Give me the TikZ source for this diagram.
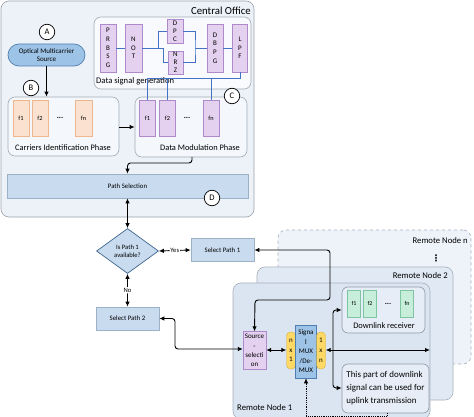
\documentclass[tikz,border=0pt]{standalone}
\usepackage{fontspec}
\setmainfont{Carlito}
\newfontfamily\dejavu{DejaVu Sans}
\usetikzlibrary{shapes.geometric,arrows.meta}
\newcommand\fsz[2]{\fontsize{#1}{#2}\selectfont}
\definecolor{cofill}{HTML}{EDF2F8}
\definecolor{coline}{HTML}{9AA4AE}
\definecolor{pnfill}{HTML}{F4F7FB}
\definecolor{pnline}{HTML}{A3ACB6}
\definecolor{ofill}{HTML}{FBE2D0}
\definecolor{oline}{HTML}{EFB78F}
\definecolor{pfill}{HTML}{E4D0EF}
\definecolor{pline}{HTML}{AE8ACB}
\definecolor{gfill}{HTML}{C6EEDB}
\definecolor{gline}{HTML}{7FC5A2}
\definecolor{bfill}{HTML}{C8DBEF}
\definecolor{bline}{HTML}{9DB1C6}
\definecolor{mfill}{HTML}{9DC3E6}
\definecolor{mline}{HTML}{4F7FB0}
\definecolor{yfill}{HTML}{FFD966}
\definecolor{yline}{HTML}{D4AE3C}
\definecolor{wirec}{HTML}{4472C4}
\definecolor{rnnfill}{HTML}{EEF3F9}
\definecolor{rn2fill}{HTML}{E1EAF4}
\definecolor{rn1fill}{HTML}{DAE5F1}
\definecolor{rnline}{HTML}{A7B1BC}
\definecolor{dlfill}{HTML}{E6EDF6}
\definecolor{dlline}{HTML}{8E9AA7}
\tikzset{
  copanel/.style={draw=coline, fill=cofill, rounded corners=8pt, line width=0.6pt, inner sep=0},
  panel/.style={draw=pnline, fill=pnfill, rounded corners=7pt, line width=0.6pt, inner sep=0},
  obox/.style={draw=oline, fill=ofill, minimum width=16, minimum height=36, inner sep=0, font=\fsz{6.3}{7}},
  pbox/.style={draw=pline, fill=pfill, inner sep=0, align=center, font=\fsz{7}{8.7}},
  gbox/.style={draw=gline, fill=gfill, minimum width=13, minimum height=27, inner sep=0, font=\fsz{6}{7}},
  bbox/.style={draw=bline, fill=bfill, inner sep=0, line width=0.6pt, font=\fsz{6.8}{8}},
  ybox/.style={draw=yline, fill=yfill, rounded corners=4pt, minimum width=9, minimum height=37, inner sep=0, align=center, font=\fsz{7}{9.8}},
  rnpanel/.style={draw=rnline, rounded corners=8pt, line width=0.6pt, inner sep=0},
  dlpanel/.style={draw=dlline, fill=dlfill, rounded corners=6pt, line width=0.6pt, inner sep=0},
  circ/.style={circle, draw, fill=white, line width=0.7pt, minimum size=15.5, inner sep=0, font=\fsz{8.5}{9}},
  wire/.style={draw=wirec, line width=0.8pt},
  arr/.style={-{Latex[length=5pt,width=4.5pt]}, line width=0.9pt, rounded corners=3pt},
  darr/.style={{Latex[length=5pt,width=4.5pt]}-{Latex[length=5pt,width=4.5pt]}, line width=0.9pt, rounded corners=3pt},
  dots/.style={inner sep=0, font=\fsz{8}{9}\bfseries},
  lbl/.style={inner sep=0, font=\fsz{8.4}{10}},
  rnlbl/.style={inner sep=0, font=\fsz{8.7}{10}},
}
\begin{document}
\begin{tikzpicture}[x=1pt,y=-1pt]
\useasboundingbox (0,0) rectangle (474,417);
\fill[white] (0,0) rectangle (474,417);

% ---------------- Central office ----------------
\node[copanel, minimum width=253, minimum height=216] (co) at (127.5,109) {};
\node[anchor=east, inner sep=0, font=\fsz{10.8}{12}] (cotitle) at (251,11) {Central Office};

% data signal generation
\node[panel, fill=white!40!pnfill, minimum width=157, minimum height=72] (dsg) at (172.5,53) {};
\node[pbox, minimum width=16, minimum height=48] (prbsg) at (108,48) {P\\R\\B\\S\\G};
\node[pbox, minimum width=17, minimum height=48] (not) at (133.5,48) {N\\O\\T};
\node[pbox, minimum width=16, minimum height=24, font=\fsz{7}{8}] (dpc) at (175,31) {D\\P\\C};
\node[pbox, minimum width=15, minimum height=23, font=\fsz{7}{8}] (nrz) at (175.5,62.5) {N\\R\\Z};
\node[pbox, minimum width=16, minimum height=48] (dbpg) at (215,48) {D\\B\\P\\G};
\node[pbox, minimum width=15, minimum height=48] (lpf) at (240,48) {L\\P\\F};
\node[anchor=west, inner sep=0, font=\fsz{8.6}{10}] (dsglabel) at (96,81) {Data signal generation};

\coordinate (splitL) at (158,48);
\coordinate (joinR) at (195,48);
\draw[wire] (prbsg) -- (not);
\draw[wire] (not.east) -- (splitL) |- (dpc.west);
\draw[wire] (splitL) -- (163,48) |- (nrz.west);
\draw[wire] (dpc.east) -| (joinR) |- (nrz.east);
\draw[wire] (joinR) -- (dbpg.west);
\draw[wire] (dbpg) -- (lpf);

% source
\node[draw=mline, fill=mfill, rounded corners=11pt, minimum width=77, minimum height=22, inner sep=0, align=center, font=\fsz{7}{8.3}, line width=0.7pt] (src) at (46.5,55) {Optical Multicarrier\\Source};
\node[circ] (cA) at (47,32) {A};

% carriers identification phase
\node[panel, minimum width=111, minimum height=59] (carr) at (63.5,126.5) {};
\node[obox] (of1) at (21,118) {f1};
\node[obox] (of2) at (40,118) {f2};
\node[dots] (odots) at (60,118) {...};
\node[obox, minimum width=17] (ofn) at (83.5,118) {fn};
\node[lbl] (carrlbl) at (63,148) {Carriers Identification Phase};
\node[circ] (cB) at (31,88) {B};
\draw[arr] (src.south) -- (src.south |- carr.north);

% data modulation phase
\node[panel, minimum width=112, minimum height=60] (dmod) at (191,127) {};
\node[pbox, minimum width=16, minimum height=36, font=\fsz{6.3}{7}] (pf1) at (147.5,118) {f1};
\node[pbox, minimum width=16, minimum height=36, font=\fsz{6.3}{7}] (pf2) at (167.5,118) {f2};
\node[dots] (pdots) at (187,118) {...};
\node[pbox, minimum width=16, minimum height=36, font=\fsz{6.3}{7}] (pfn) at (211,118) {fn};
\node[lbl] (dmodlbl) at (200,148) {Data Modulation Phase};
\node[circ] (cC) at (232,96) {C};

\coordinate (bus) at (147.5,78);
\draw[wire] (lpf.south) |- (bus) -- (pf1.north);
\draw[wire] (pf2.north |- bus) -- (pf2.north);
\draw[wire] (pfn.north |- bus) -- (pfn.north);

\draw[arr] (carr.east |- 0,127) -- (dmod.west |- 0,127);

% path selection
\node[bbox, minimum width=241, minimum height=24] (psel) at (127.5,186) {Path Selection};
\node[circ] (cD) at (212,198) {D};
\draw[arr] (192,157) -- (192,163) -| (psel.north);

% ---------------- decision ----------------
\node[diamond, draw=mline!80!black, fill=bfill, line width=0.7pt, minimum width=62, minimum height=45, inner sep=0, align=center, font=\fsz{6.6}{8}] (dec) at (127.5,251) {Is Path 1\\available?};
\draw[darr] (psel.south) -- (dec.north);
\node[bbox, minimum width=63, minimum height=23] (sp1) at (222.5,250) {Select Path 1};
\node[bbox, minimum width=63, minimum height=23] (sp2) at (127.5,318.5) {Select Path 2};
\draw[darr] (dec.east) -- node[fill=white, inner sep=1pt, font=\fsz{6.6}{7}] (yes) {Yes} (sp1.west);
\draw[darr] (dec.south) -- node[fill=white, inner sep=1pt, font=\fsz{6.6}{7}] (no) {No} (sp2.north);

% ---------------- remote nodes ----------------
\node[rnpanel, dashed, fill=rnnfill, minimum width=193, minimum height=134] (rnn) at (374.5,297) {};
\node[anchor=east, rnlbl] (rnnlbl) at (468,241) {Remote Node n};
\node[inner sep=0, font=\dejavu\fsz{9}{10}\bfseries] (rnndots) at (436,258) {⋮};
\node[rnpanel, fill=rn2fill, minimum width=196, minimum height=133] (rn2) at (355,333.5) {};
\node[anchor=east, rnlbl] (rn2lbl) at (448,276) {Remote Node 2};
\node[rnpanel, fill=rn1fill, minimum width=197, minimum height=136] (rn1) at (331.5,351) {};
\node[anchor=west, rnlbl] (rn1lbl) at (237,408) {Remote Node 1};

% downlink receiver
\node[dlpanel, minimum width=83, minimum height=46] (dl) at (383.5,310) {};
\node[gbox] (gf1) at (354,303.5) {f1};
\node[gbox] (gf2) at (370,303.5) {f2};
\node[dots] (gdots) at (388,303.5) {...};
\node[gbox] (gfn) at (407,303.5) {fn};
\node[lbl] (dllbl) at (384,325.5) {Downlink receiver};

% this part box
\node[dlpanel, minimum width=87, minimum height=49, align=left, font=\fsz{8.9}{13}] (tp) at (385.5,388.5) {This part of downlink\\signal can be used for\\uplink transmission};

% source selection and mux
\node[pbox, minimum width=23, minimum height=38, font=\fsz{7}{9.2}] (ssel) at (254.5,350.5) {Source\\-\\selecti\\on};
\node[ybox] (nx1) at (291,350.5) {n\\x\\1};
\node[draw=mline, fill=mfill, minimum width=21, minimum height=53, inner sep=0, align=center, font=\fsz{7}{9.5}, line width=0.6pt] (mux) at (306,351.5) {Signa\\l\\MUX\\/De-\\MUX};
\node[ybox] (onex) at (321,350.5) {1\\x\\n};

\draw[darr] (ssel.east |- 0,350) -- (nx1.west |- 0,350);
\coordinate (jn) at (333,350);
\coordinate (rnout) at (430,350);
\draw[arr] (jn) -- (onex.east |- jn);
\draw[arr] (jn) |- (dl.west |- 0,310);
\draw[arr] (jn) -- (rnout);
\draw[arr] (jn) |- (tp.west |- 0,388);
\draw[-{Latex[length=5pt,width=4.5pt]}, line width=0.8pt, densely dotted] (387,413) -- (387,416) -- (306,416) -- (mux.south);

% connections to select path boxes
\draw[darr] (sp1.east) -- (330,250) -- (330,300) -- (255,300) -- (ssel.north);
\draw[darr] (sp2.east) -- (175,318.5) -- (175,349) -- (ssel.west |- 0,349);
\end{tikzpicture}
\end{document}
